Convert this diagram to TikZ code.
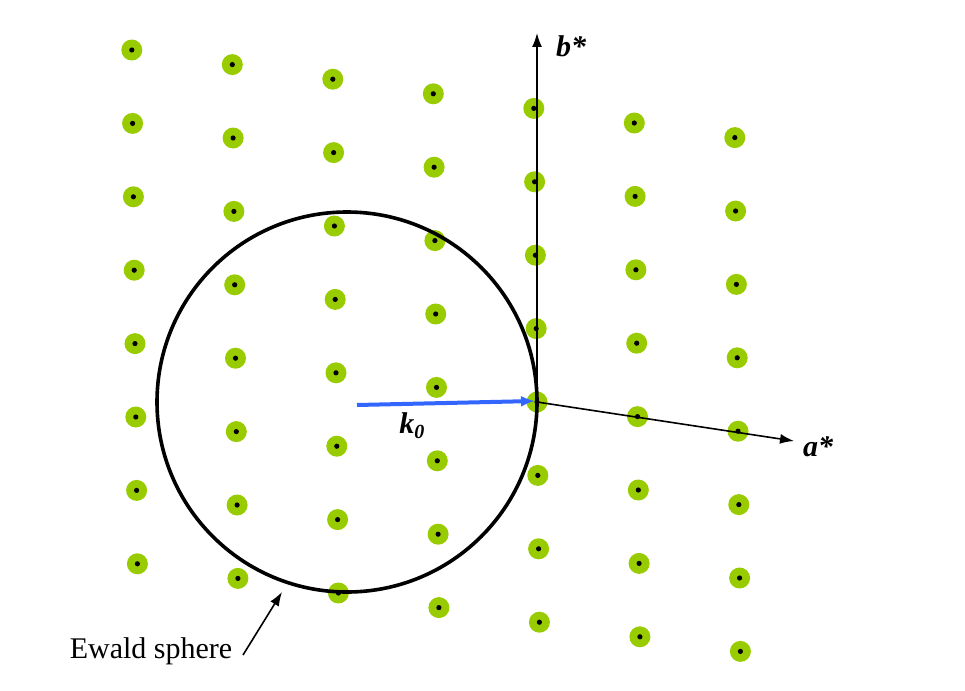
\documentclass[tikz,border=0pt]{standalone}
\usepackage{fontspec}
\setmainfont{Liberation Serif}
\usetikzlibrary{arrows.meta}
\definecolor{lat}{RGB}{153,204,0}
\definecolor{kblue}{RGB}{51,102,255}
\begin{document}
\begin{tikzpicture}[x=1pt,y=-1pt,
  lbl/.style={font=\fontsize{30}{34}\selectfont\bfseries\itshape},
  axis/.style={line width=1.6pt,-{Latex[length=14pt,width=10pt]}}]
\useasboundingbox (0,0) rectangle (965,690);
\foreach \i in {-4,...,2}{
  \foreach \j in {-3,...,4}{
    \pgfmathsetmacro{\px}{537+100.5*\i-0.8*\j}
    \pgfmathsetmacro{\py}{402+14.6*\i-73.4*\j}
    \fill[lat] (\px,\py) circle (10.5);
    \fill[black] (\px,\py) circle (2.6);
  }}
\coordinate (O) at (537,402);
\coordinate (C) at (347,402);
\coordinate (B) at (537,33);
\coordinate (A) at (794,441);
\draw[line width=3.6pt] (C) circle (190);
\draw[axis] (O) -- (B);
\draw[axis] (O) -- (A);
\draw[kblue,line width=4pt,-{Latex[length=14pt,width=11pt]}] (357,405) -- (535,401);
\node[lbl] (b) at (571,46) {b*};
\node[lbl] (a) at (818,447) {a*};
\node[lbl] (k) at (412,426) {k\textsubscript{\fontsize{20}{20}\selectfont 0}};
\node[font=\fontsize{30}{34}\selectfont] (e) at (151,651) {Ewald sphere};
\coordinate (es) at (243,655);
\coordinate (ee) at (282,592);
\draw[line width=1.6pt,-{Latex[length=14pt,width=10pt]}] (es) -- (ee);
\end{tikzpicture}
\end{document}
